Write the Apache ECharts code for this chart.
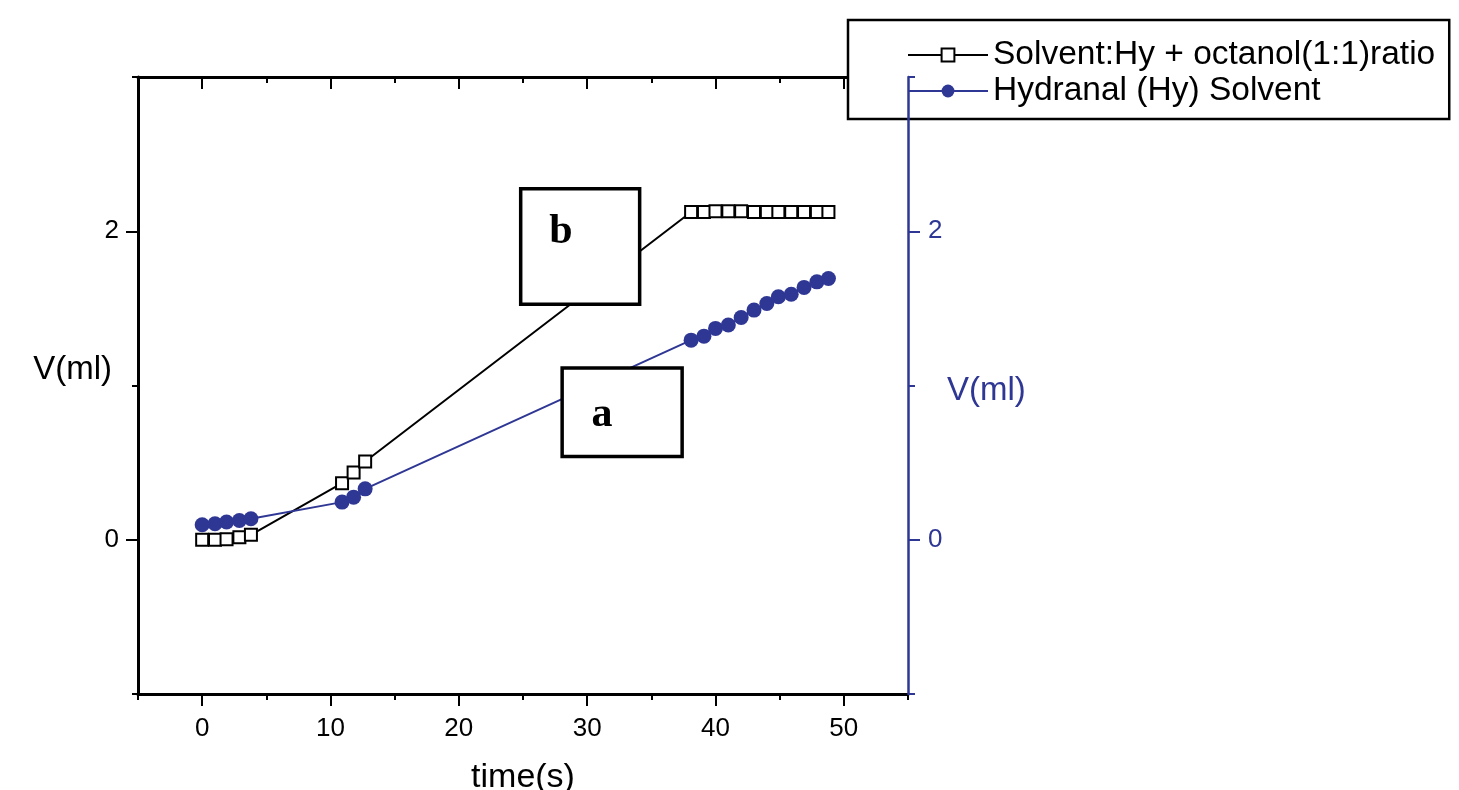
<!DOCTYPE html>
<html><head><meta charset="utf-8">
<script src="https://cdn.jsdelivr.net/npm/echarts@6/dist/echarts.min.js"></script>
<style>html,body{margin:0;padding:0;background:#fff}#c{width:1459px;height:790px}</style>
</head><body><div id="c"></div>
<script>
// ---- data ----
const octTime = [0, 1, 1.9, 2.9, 3.8, 10.9, 11.8, 12.7, 38.1, 39.1, 40, 41, 42, 43, 44, 44.9, 45.9, 46.9, 47.9, 48.8];
const octVol  = [0, 0, 0.003, 0.017, 0.032, 0.367, 0.436, 0.507, 2.125, 2.125, 2.13, 2.13, 2.13, 2.125, 2.125, 2.125, 2.125, 2.125, 2.125, 2.125];
const hyTime  = [0, 1, 1.9, 2.9, 3.8, 10.9, 11.8, 12.7, 38.1, 39.1, 40, 41, 42, 43, 44, 44.9, 45.9, 46.9, 47.9, 48.8];
const hyVol   = [0.097, 0.104, 0.115, 0.125, 0.136, 0.244, 0.276, 0.330, 1.294, 1.320, 1.370, 1.392, 1.441, 1.489, 1.532, 1.575, 1.592, 1.636, 1.672, 1.694];
const seriesNames = ['Solvent:Hy + octanol(1:1)ratio', 'Hydranal (Hy) Solvent'];
const xMajorTicks = [0, 10, 20, 30, 40, 50];
const xMinorTicks = [-5, 5, 15, 25, 35, 45, 55];
const yMajorTicks = [0, 2];
const yMinorTicks = [-1, 1, 3];
const xTitle = 'time(s)';
const yTitle = 'V(ml)';
// annotation boxes (data coords): [x0, yTop, x1, yBottom], label anchor [x, y]
const boxLabels = ['b', 'a'];
const boxRects = [[24.82, 2.276, 34.09, 1.526], [28.05, 1.113, 37.40, 0.539]];
const boxTextAt = [[27.95, 1.995], [31.15, 0.809]];

const BLUE = '#2F3794';
const SANS = 'Liberation Sans, Arial, sans-serif';
const toPairs = (xs, ys) => xs.map((x, i) => [x, ys[i]]);

const chart = echarts.init(document.getElementById('c'), null, {renderer: 'canvas'});

function xAx(opts) {
  return Object.assign({
    type: 'value', min: -5, max: 55, interval: 5, gridIndex: 0,
    splitLine: {show: false},
    axisLine: {show: false, onZero: false},
    axisLabel: {show: false},
    axisTick: {show: false}
  }, opts);
}
function yAx(opts) {
  return Object.assign({
    type: 'value', min: -1, max: 3, interval: 1, gridIndex: 0,
    splitLine: {show: false},
    axisLine: {show: false, onZero: false},
    axisLabel: {show: false},
    axisTick: {show: false}
  }, opts);
}

const option = {
  backgroundColor: '#fff',
  animation: false,
  grid: {left: 138, right: 551, top: 77, bottom: 96, containLabel: false, outerBoundsMode: 'none'},
  legend: {
    show: true, orient: 'vertical', left: 848, top: 20, z: 2,
    backgroundColor: '#fff', borderColor: '#000', borderWidth: 2.5,
    padding: [18, 14, 11, 59],
    itemWidth: 80, itemHeight: 16, itemGap: 2,
    textStyle: {fontFamily: SANS, fontSize: 33.5, color: '#000', lineHeight: 32},
    data: seriesNames
  },
  xAxis: [
    xAx({position: 'bottom',
      axisLine: {show: true, onZero: false, lineStyle: {color: '#000', width: 3}},
      axisTick: {show: true, customValues: xMajorTicks, length: 12, lineStyle: {color: '#000', width: 2}},
      axisLabel: {show: true, customValues: xMajorTicks, margin: 22, fontFamily: SANS, fontSize: 26, color: '#000'},
      name: xTitle, nameLocation: 'middle', nameGap: 67, nameMoveOverlap: false,
      nameTextStyle: {fontFamily: SANS, fontSize: 34, color: '#000'}}),
    xAx({position: 'bottom',
      axisTick: {show: true, customValues: xMinorTicks, length: 6, lineStyle: {color: '#000', width: 2}}}),
    xAx({position: 'top',
      axisLine: {show: true, onZero: false, lineStyle: {color: '#000', width: 3}},
      axisTick: {show: true, inside: true, customValues: xMajorTicks, length: 12, lineStyle: {color: '#000', width: 2}}}),
    xAx({position: 'top',
      axisTick: {show: true, inside: true, customValues: xMinorTicks, length: 6, lineStyle: {color: '#000', width: 2}}})
  ],
  yAxis: [
    yAx({position: 'left',
      axisLine: {show: true, onZero: false, lineStyle: {color: '#000', width: 3}},
      axisTick: {show: true, customValues: yMajorTicks, length: 12, lineStyle: {color: '#000', width: 2}},
      axisLabel: {show: true, customValues: yMajorTicks, margin: 19, fontFamily: SANS, fontSize: 26, color: '#000'},
      name: yTitle, nameLocation: 'middle', nameGap: 26, nameRotate: 0, nameMoveOverlap: false,
      nameTextStyle: {fontFamily: SANS, fontSize: 33, color: '#000', verticalAlign: 'bottom', lineHeight: 32}}),
    yAx({position: 'right', z: 5,
      axisLine: {show: true, onZero: false, lineStyle: {color: BLUE, width: 2.5}},
      axisTick: {show: true, customValues: yMajorTicks, length: 12, lineStyle: {color: BLUE, width: 2}},
      axisLabel: {show: true, customValues: yMajorTicks, margin: 20, fontFamily: SANS, fontSize: 26, color: BLUE},
      name: yTitle, nameLocation: 'middle', nameGap: 39, nameRotate: 0, nameMoveOverlap: false,
      nameTextStyle: {fontFamily: SANS, fontSize: 33, color: BLUE, verticalAlign: 'top', lineHeight: 10}}),
    yAx({position: 'left',
      axisTick: {show: true, customValues: yMinorTicks, length: 6, lineStyle: {color: '#000', width: 2}}}),
    yAx({position: 'right', z: 5,
      axisTick: {show: true, customValues: yMinorTicks, length: 7, lineStyle: {color: BLUE, width: 2}}})
  ],
  series: [
    {
      name: seriesNames[0], type: 'line', xAxisIndex: 0, yAxisIndex: 0,
      data: toPairs(octTime, octVol),
      symbol: 'rect', symbolSize: 12, showAllSymbol: true,
      lineStyle: {color: '#000', width: 2},
      itemStyle: {color: '#fff', borderColor: '#000', borderWidth: 2},
      emphasis: {disabled: true}, z: 3
    },
    {
      name: seriesNames[1], type: 'line', xAxisIndex: 0, yAxisIndex: 1,
      data: toPairs(hyTime, hyVol),
      symbol: 'circle', symbolSize: 15, showAllSymbol: true,
      lineStyle: {color: BLUE, width: 2},
      itemStyle: {color: BLUE, borderWidth: 0},
      emphasis: {disabled: true}, z: 3
    }
  ]
};
chart.setOption(option);

// annotation boxes drawn on top, positioned through the chart's own scales
const graphics = [];
boxRects.forEach((r, i) => {
  const p0 = chart.convertToPixel({xAxisIndex: 0, yAxisIndex: 0}, [r[0], r[1]]);
  const p1 = chart.convertToPixel({xAxisIndex: 0, yAxisIndex: 0}, [r[2], r[3]]);
  const t = chart.convertToPixel({xAxisIndex: 0, yAxisIndex: 0}, boxTextAt[i]);
  graphics.push({
    type: 'rect', z: 20,
    shape: {x: p0[0], y: p0[1], width: p1[0] - p0[0], height: p1[1] - p0[1]},
    style: {fill: '#fff', stroke: '#000', lineWidth: 3.5}
  });
  graphics.push({
    type: 'text', z: 21, x: t[0], y: t[1],
    style: {text: boxLabels[i], fill: '#000', font: 'bold 42px "Liberation Serif","Times New Roman",serif',
      align: 'center', verticalAlign: 'middle'}
  });
});
chart.setOption({graphic: graphics});
</script>
</body></html>
